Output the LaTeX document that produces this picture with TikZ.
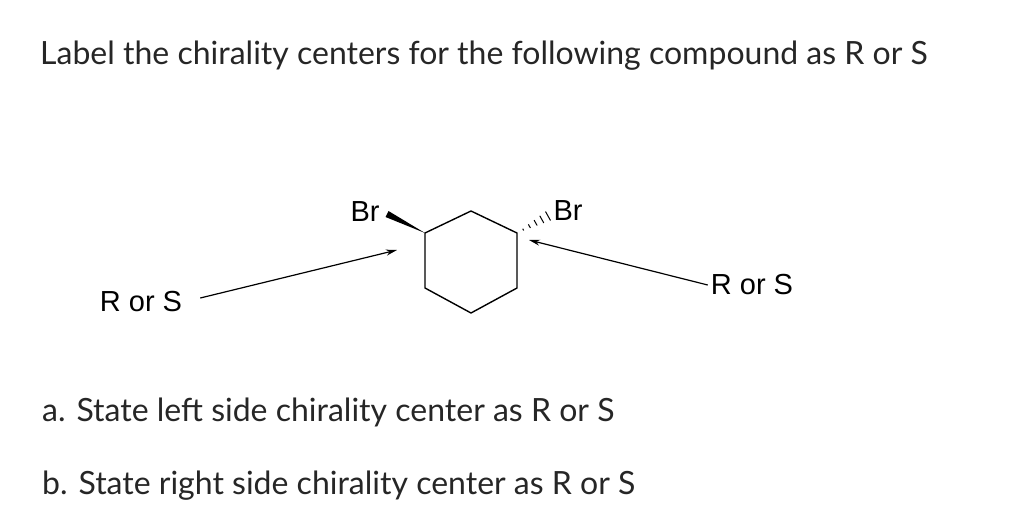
\documentclass[tikz,border=0pt]{standalone}
\usepackage{fontspec}
\setmainfont{Lato}
\newfontfamily\arial{Liberation Sans}
\usetikzlibrary{arrows.meta,calc}
\begin{document}
\begin{tikzpicture}[x=1pt,y=-1pt,
  txt/.style={anchor=base west,inner sep=0,font=\fontsize{32}{36}\selectfont,text=black!85},
  lab/.style={inner sep=0,font=\arial\fontsize{29}{32}\selectfont},
  bond/.style={line width=1.4pt},
  ptr/.style={line width=1.2pt,-{Stealth[length=11pt,width=6pt]}}]
\useasboundingbox (0,0) rectangle (1018,514);
\node[txt] (t) at (40,64) {Label the chirality centers for the following compound as R or S};
\node[txt] (a) at (42,421) {a. State left side chirality center as R or S};
\node[txt] (b) at (42,494) {b. State right side chirality center as R or S};
\coordinate (c1) at (471,211);
\coordinate (c2) at (425,233);
\coordinate (c3) at (425,288);
\coordinate (c4) at (471,313);
\coordinate (c5) at (517,288);
\coordinate (c6) at (517,233);
\draw[bond,line join=round] (c1)--(c2)--(c3)--(c4)--(c5)--(c6)--cycle;
\node[lab] (brl) at (365,212) {Br};
\node[lab] (brr) at (568,211) {Br};
\coordinate (wl) at (387,214);
\fill (c2) -- ($(wl)+(1.5,-3)$) -- ($(wl)+(-1.5,3)$) -- cycle;
\foreach \t in {0.2,0.4,...,1.0}{
  \draw[line width=1pt] ($(c6)!\t!(548,216)+(-\t*2.5,-\t*4.5)$) -- ($(c6)!\t!(548,216)+(\t*2.5,\t*4.5)$);}
\node[lab] (rl) at (141,302) {R or S};
\node[lab] (rr) at (752,285) {R or S};
\coordinate (tl) at (397,250);
\coordinate (tr) at (529,240);
\draw[ptr] (rl.east)++(18,-4) -- (tl);
\draw[ptr] (rr.west)++(-3,0) -- (tr);
\end{tikzpicture}
\end{document}
